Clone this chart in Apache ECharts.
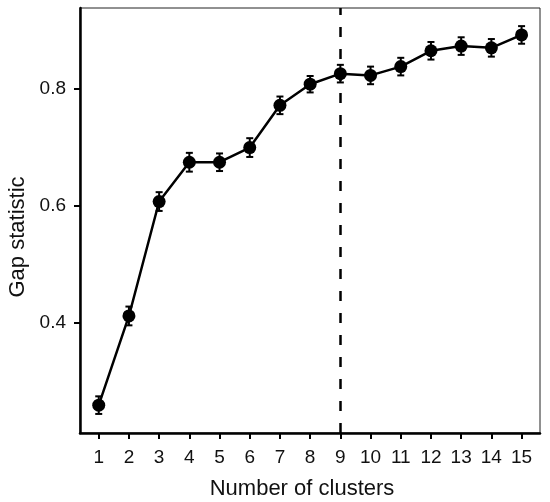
<!DOCTYPE html>
<html>
<head>
<meta charset="utf-8">
<script src="https://cdn.jsdelivr.net/npm/echarts@6/dist/echarts.min.js"></script>
<style>
html,body{margin:0;padding:0;background:#fff;}
#chart{width:550px;height:502px;}
</style>
</head>
<body>
<div id="chart"></div>
<script>
var clusters = [1,2,3,4,5,6,7,8,9,10,11,12,13,14,15];
var gapValues = [0.260,0.412,0.607,0.674,0.674,0.699,0.771,0.807,0.825,0.822,0.837,0.864,0.872,0.869,0.891];
var gapSE = [0.015,0.016,0.016,0.016,0.015,0.016,0.015,0.014,0.015,0.015,0.015,0.015,0.015,0.015,0.015];
var yTicks = [0.4,0.6,0.8];
var optimalK = 9;

var lineData = clusters.map(function(k,i){return [k, gapValues[i]];});
var errData = clusters.map(function(k,i){return [k, gapValues[i]-gapSE[i], gapValues[i]+gapSE[i]];});

var FONT = 'Liberation Sans, Arial, sans-serif';
var chart = echarts.init(document.getElementById('chart'));
chart.setOption({
  animation:false,
  backgroundColor:'#fff',
  grid:{left:80,right:10,top:8,bottom:69,show:true,borderColor:'#222',borderWidth:1,backgroundColor:'transparent'},
  xAxis:{
    type:'value',min:0.38,max:15.61,
    splitLine:{show:false},
    axisLine:{show:true,onZero:false,lineStyle:{color:'#000',width:2.5}},
    axisTick:{show:true,length:6,lineStyle:{color:'#000',width:2},customValues:clusters},
    axisLabel:{fontSize:19,color:'#111',fontFamily:FONT,margin:15,customValues:clusters}
  },
  yAxis:{
    type:'value',min:0.2125,max:0.9369,
    splitLine:{show:false},
    axisLine:{show:true,onZero:false,lineStyle:{color:'#000',width:2.5}},
    axisTick:{show:true,length:6,lineStyle:{color:'#000',width:2},customValues:yTicks},
    axisLabel:{fontSize:19,color:'#111',fontFamily:FONT,margin:14,customValues:yTicks,
      formatter:function(v){return v.toFixed(1);}}
  },
  graphic:[
    {type:'text',x:18,y:237,rotation:Math.PI/2,
      style:{text:'Gap statistic',font:'22px '+FONT,fill:'#111',align:'center',verticalAlign:'middle'}},
    {type:'text',x:302,y:489,
      style:{text:'Number of clusters',font:'22px '+FONT,fill:'#111',align:'center',verticalAlign:'middle'}}
  ],
  series:[
    {
      type:'line',data:lineData,symbol:'circle',symbolSize:13,
      lineStyle:{color:'#000',width:2.5},itemStyle:{color:'#000'},z:3,
      markLine:{silent:true,symbol:'none',label:{show:false},
        lineStyle:{color:'#000',width:2.5,type:[10,12]},
        data:[{xAxis:optimalK}]}
    },
    {
      type:'custom',data:errData,z:4,
      encode:{x:0,y:[1,2]},
      renderItem:function(params,api){
        var x=api.value(0),lo=api.value(1),hi=api.value(2);
        var p1=api.coord([x,hi]),p2=api.coord([x,lo]);
        var cw=3.5;
        return {type:'group',children:[
          {type:'line',shape:{x1:p1[0],y1:p1[1],x2:p2[0],y2:p2[1]},style:{stroke:'#000',lineWidth:2}},
          {type:'line',shape:{x1:p1[0]-cw,y1:p1[1],x2:p1[0]+cw,y2:p1[1]},style:{stroke:'#000',lineWidth:2}},
          {type:'line',shape:{x1:p2[0]-cw,y1:p2[1],x2:p2[0]+cw,y2:p2[1]},style:{stroke:'#000',lineWidth:2}}
        ]};
      }
    }
  ]
});
</script>
</body>
</html>
